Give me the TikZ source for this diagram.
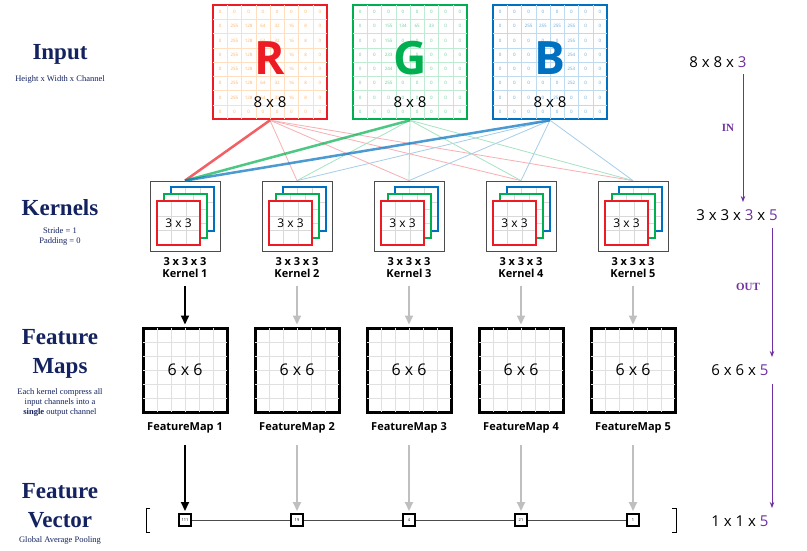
\documentclass[tikz,border=0pt]{standalone}
\usepackage{fontspec}
\setmainfont{Open Sans}
\newfontfamily\titlefont{Liberation Serif}
\usetikzlibrary{arrows.meta,calc}
\definecolor{cR}{RGB}{237,28,36}
\definecolor{cG}{RGB}{0,176,80}
\definecolor{cB}{RGB}{0,112,192}
\definecolor{navy}{RGB}{20,35,95}
\definecolor{purp}{RGB}{112,48,160}
\begin{document}
\begin{tikzpicture}[x=1pt,y=-1pt,
  chan/.style={draw=#1,line width=2.5pt,minimum size=114pt,inner sep=0pt},
  kout/.style={draw=black!70,line width=0.8pt,fill=white,minimum size=70pt,inner sep=0pt},
  fmap/.style={draw=black,line width=3pt,minimum size=84pt,inner sep=0pt},
  vsq/.style={draw=black,line width=2pt,fill=white,minimum size=12pt,inner sep=0pt,font=\fontsize{4}{4}\selectfont},
  ttl/.style={font=\titlefont\bfseries\fontsize{23}{25}\selectfont,text=navy},
  sub/.style={font=\titlefont\fontsize{8.5}{10}\selectfont,text=navy,align=center},
  lab/.style={font=\bfseries\fontsize{11}{12}\selectfont},
  dim/.style={font=\fontsize{15}{16}\selectfont},
  parr/.style={draw=purp,line width=0.9pt,-{Stealth[length=6pt]}},
  blk/.style={line width=2pt,-{Triangle[length=9pt,width=8pt]}},
  gry/.style={draw=black!25,line width=2pt,-{Triangle[length=9pt,width=8pt]}}]
\fill[white] (0,0) rectangle (807,550);
\useasboundingbox (0,0) rectangle (807,550);
% ---- input channels
\def\chgrid#1#2#3{%
  \foreach \i in {1,...,7}{\draw[#2!25,line width=0.3pt] ($(#1)+(-57+\i*14.25,-57)$) -- ++(0,114);
    \draw[#2!25,line width=0.3pt] ($(#1)+(-57,-57+\i*14.25)$) -- ++(114,0);}%
  \foreach \r/\row in {#3}{\foreach \v [count=\c] in \row {\node[text=#2!60,font=\fontsize{4.5}{5}\selectfont,inner sep=0pt] at ($(#1)+(-57-7.125+\c*14.25,-57-7.125+\r*14.25)$) {\v};}}}
\node[chan=cR] (R) at (270,62) {};
\node[chan=cG] (G) at (410,62) {};
\node[chan=cB] (B) at (550,62) {};
\chgrid{R}{orange}{1/{0,0,0,0,0,0,0,0},2/{0,255,128,64,32,16,8,0},3/{0,255,128,64,32,16,8,0},4/{0,255,128,64,32,16,8,0},5/{0,255,128,64,32,16,8,0},6/{0,255,128,64,32,16,8,0},7/{0,255,128,64,32,16,8,0},8/{0,0,0,0,0,0,0,0}}
\chgrid{G}{cG}{1/{0,0,0,0,0,0,0,0},2/{0,0,155,134,65,33,0,0},3/{0,0,155,0,0,0,0,0},4/{0,0,233,0,0,0,0,0},5/{0,0,244,0,0,0,0,0},6/{0,0,255,0,0,0,0,0},7/{0,0,0,0,0,0,0,0},8/{0,0,0,0,0,0,0,0}}
\chgrid{B}{cB}{1/{0,0,0,0,0,0,0,0},2/{0,0,255,255,255,255,0,0},3/{0,0,0,0,0,255,0,0},4/{0,0,0,0,0,254,0,0},5/{0,0,0,0,0,253,0,0},6/{0,0,0,0,0,252,0,0},7/{0,0,0,0,251,0,0,0},8/{0,0,0,0,0,0,0,0}}
\foreach \n/\c/\l in {R/cR/R,G/cG/G,B/cB/B}{
  \node[text=\c,font=\bfseries\fontsize{46}{46}\selectfont,inner sep=0pt] at ($(\n)+(0,-4)$) {\l};
  \node[font=\fontsize{15}{16}\selectfont,inner sep=1pt] at ($(\n)+(0,40)$) {8 x 8};
}
% ---- kernels
\foreach \k/\x in {1/185,2/297,3/409,4/521,5/633}{
  \node[kout] (k\k) at (\x,216) {};
  \foreach \dd/\cc in {14/cB,7/cG,0/cR}{
    \fill[white] ($(k\k)+(-28+\dd,-15-\dd)$) rectangle ++(43,44);
    \foreach \t in {1,2}{\draw[black!15,line width=0.3pt] ($(k\k)+(-28+\dd+\t*14.33,-15-\dd)$) -- ++(0,44);
      \draw[black!15,line width=0.3pt] ($(k\k)+(-28+\dd,-15-\dd+\t*14.67)$) -- ++(43,0);}
    \draw[\cc,line width=2.5pt] ($(k\k)+(-28+\dd,-15-\dd)$) rectangle ++(43,44);
  }
  \node[font=\fontsize{12}{12}\selectfont] at ($(k\k)+(-6.5,7)$) {3 x 3};
  \node[lab,align=center] (kl\k) at (\x,268) {3 x 3 x 3\\Kernel \k};
  \node[fmap] (f\k) at (\x,370) {};
  \foreach \t in {1,...,5}{\draw[black!12,line width=0.4pt] ($(f\k)+(-42+\t*14,-42)$) -- ++(0,84);
    \draw[black!12,line width=0.4pt] ($(f\k)+(-42,-42+\t*14)$) -- ++(84,0);}
  \node[font=\fontsize{16}{16}\selectfont] at (f\k) {6 x 6};
  \node[lab] (fl\k) at (\x,428) {FeatureMap \k};
}
% connectors input -> kernels
\foreach \k in {2,3,4,5}{
  \foreach \n/\c in {R/cR,G/cG,B/cB}{\draw[\c!35,line width=0.8pt] (\n.south) -- (k\k.north);}}
\foreach \n/\c in {R/cR,G/cG,B/cB}{\draw[\c,opacity=0.7,line width=2.5pt] (\n.south) -- (k1.north);}
% feature vector
\coordinate (vl) at (185,520);
\coordinate (vr) at (633,520);
\draw[black!70,line width=1pt] (vl) -- (vr);
\foreach \k/\x/\v in {1/185/111,2/297/19,3/409/4,4/521/21,5/633/1}{
  \node[vsq] (v\k) at (\x,520) {\v};
}
\draw[line width=1pt] (150,508) -- (146,508) -- (146,532) -- (150,532);
\draw[line width=1pt] (672,508) -- (676,508) -- (676,532) -- (672,532);
% arrows
\draw[blk] ($(kl1.south)+(0,4)$) -- ($(f1.north)+(0,-2)$);
\draw[blk] ($(fl1.south)+(0,8)$) -- ($(v1.north)+(0,-2)$);
\foreach \k in {2,...,5}{
  \draw[gry] ($(kl\k.south)+(0,4)$) -- ($(f\k.north)+(0,-2)$);
  \draw[gry] ($(fl\k.south)+(0,8)$) -- ($(v\k.north)+(0,-2)$);
}
% left titles
\node[ttl] at (60,54) {Input};
\node[sub] at (60,79) {Height x Width x Channel};
\node[ttl] at (60,208) {Kernels};
\node[sub] at (60,236) {Stride = 1\\Padding = 0};
\node[ttl,align=center,font=\titlefont\bfseries\fontsize{23}{29}\selectfont] at (60,354) {Feature\\Maps};
\node[sub] at (60,402) {Each kernel compress all\\input channels into a\\\textbf{single} output channel};
\node[ttl,align=center,font=\titlefont\bfseries\fontsize{23}{29}\selectfont] at (60,506) {Feature\\Vector};
\node[sub] at (60,540) {Global Average Pooling};
% right dims
\node[dim] (d1) at (718,62) {8 x 8 x \textcolor{purp}{3}};
\node[dim] (d2) at (737,215) {3 x 3 x \textcolor{purp}{3} x \textcolor{purp}{5}};
\node[dim] (d3) at (740,370) {6 x 6 x \textcolor{purp}{5}};
\node[dim] (d4) at (740,521) {1 x 1 x \textcolor{purp}{5}};
\draw[parr] (743,74) -- (743,202);
\draw[parr] (772,228) -- (772,357);
\draw[parr] (772,384) -- (772,508);
\node[text=purp,font=\titlefont\bfseries\fontsize{11}{11}\selectfont] at (728,128) {IN};
\node[text=purp,font=\titlefont\bfseries\fontsize{11}{11}\selectfont] at (748,287) {OUT};
\end{tikzpicture}
\end{document}
